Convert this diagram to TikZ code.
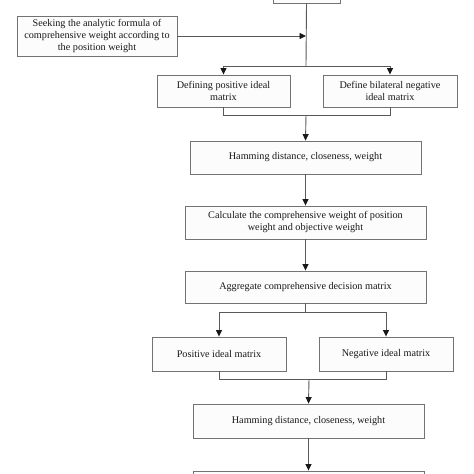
\documentclass[tikz,border=0pt]{standalone}
\usepackage{fontspec}
\setmainfont{Liberation Serif}
\usetikzlibrary{arrows.meta}
\begin{document}
\begin{tikzpicture}[x=1pt,y=-1pt,
  box/.style={draw=black!55, fill=black!1, line width=0.9pt, align=center,
    inner sep=1pt, font=\fontsize{10.2}{12}\selectfont, text=black!90},
  conn/.style={draw=black!65, line width=0.9pt},
  arr/.style={conn, -{Triangle[length=6.5pt,width=6pt,color=black!90]}}]
\useasboundingbox (0,0) rectangle (474,474);
% top (cut) box
\node[box, minimum width=67pt, minimum height=30pt] (top) at (306.5,-12) {};
% left box
\node[box, minimum width=160pt, minimum height=40pt] (seek) at (97,36)
  {Seeking the analytic formula of\\comprehensive weight according to\\the position weight};
\coordinate (j1) at (306,36);
\coordinate (b1) at (306,66);
\node[box, minimum width=133pt, minimum height=32pt] (dpos) at (223.5,91)
  {Defining positive ideal\\matrix};
\node[box, minimum width=134pt, minimum height=32pt] (dneg) at (390,91)
  {Define bilateral negative\\ideal matrix};
\coordinate (m1) at (306,115);
\node[box, minimum width=231pt, minimum height=33pt] (ham1) at (305.5,157.5)
  {Hamming distance, closeness, weight};
\node[box, minimum width=241pt, minimum height=33pt] (calc) at (305.5,222.5)
  {Calculate the comprehensive weight of position\\weight and objective weight};
\node[box, minimum width=241pt, minimum height=32pt] (agg) at (305.5,287)
  {Aggregate comprehensive decision matrix};
\coordinate (b2) at (305.5,312);
\node[box, minimum width=134pt, minimum height=34pt] (pos) at (219,354)
  {Positive ideal matrix};
\node[box, minimum width=134pt, minimum height=34pt] (neg) at (386,354)
  {Negative ideal matrix};
\coordinate (m2) at (309,379);
\node[box, minimum width=231pt, minimum height=34pt] (ham2) at (308.5,421)
  {Hamming distance, closeness, weight};
\node[box, minimum width=231pt, minimum height=34pt] (last) at (308.5,488) {};
% connectors
\draw[conn] (top.south) -- (b1);
\draw[arr] (seek.east) -- (j1);
\draw[arr] (b1) -| (dpos.north);
\draw[arr] (b1) -| (dneg.north);
\draw[conn] (dpos.south) |- (m1);
\draw[conn] (dneg.south) |- (m1);
\draw[arr] (m1) -- (ham1.north);
\draw[arr] (ham1.south) -- (calc.north);
\draw[arr] (calc.south) -- (agg.north);
\draw[conn] (agg.south) -- (b2);
\draw[arr] (b2) -| (pos.north);
\draw[arr] (b2) -| (neg.north);
\draw[conn] (pos.south) |- (m2);
\draw[conn] (neg.south) |- (m2);
\draw[arr] (m2) -- (ham2.north);
\draw[arr] (ham2.south) -- (last.north);
\end{tikzpicture}
\end{document}
